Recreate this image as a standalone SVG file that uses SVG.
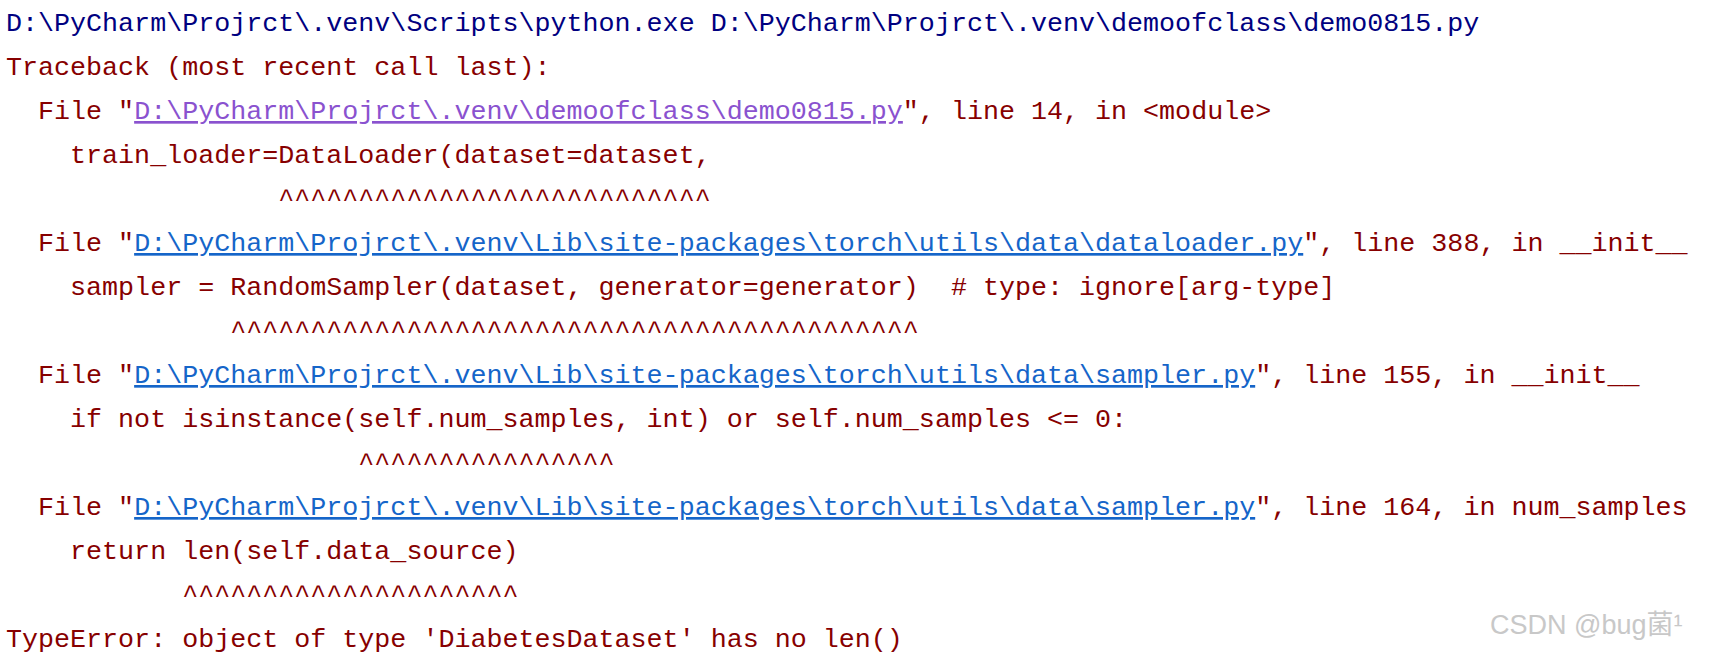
<svg xmlns="http://www.w3.org/2000/svg" width="1713" height="652" viewBox="0 0 1713 652">
<style>
text{font-family:"Liberation Mono","DejaVu Sans Mono",monospace;font-size:26.7px;fill:#870000;white-space:pre}
.cmd{fill:#000080}
.lv{fill:#8a52cf;text-decoration:underline}
.lb{fill:#1565c9;text-decoration:underline}
.wm{font-family:"Liberation Sans","Noto Sans CJK SC",sans-serif;fill:#c8c8c8;font-size:27px}
</style>
<rect width="1713" height="652" fill="#ffffff"/>
<g id="traceback" xml:space="preserve">
<text class="cmd" x="6" y="31">D:\PyCharm\Projrct\.venv\Scripts\python.exe D:\PyCharm\Projrct\.venv\demoofclass\demo0815.py</text>
<text x="6" y="75">Traceback (most recent call last):</text>
<text x="6" y="119">  File "<tspan class="lv">D:\PyCharm\Projrct\.venv\demoofclass\demo0815.py</tspan>", line 14, in &lt;module&gt;</text>
<text x="6" y="163">    train_loader=DataLoader(dataset=dataset,</text>
<text x="6" y="207">                 ^^^^^^^^^^^^^^^^^^^^^^^^^^^</text>
<text x="6" y="251">  File "<tspan class="lb">D:\PyCharm\Projrct\.venv\Lib\site-packages\torch\utils\data\dataloader.py</tspan>", line 388, in __init__</text>
<text x="6" y="295">    sampler = RandomSampler(dataset, generator=generator)  # type: ignore[arg-type]</text>
<text x="6" y="339">              ^^^^^^^^^^^^^^^^^^^^^^^^^^^^^^^^^^^^^^^^^^^</text>
<text x="6" y="383">  File "<tspan class="lb">D:\PyCharm\Projrct\.venv\Lib\site-packages\torch\utils\data\sampler.py</tspan>", line 155, in __init__</text>
<text x="6" y="427">    if not isinstance(self.num_samples, int) or self.num_samples &lt;= 0:</text>
<text x="6" y="471">                      ^^^^^^^^^^^^^^^^</text>
<text x="6" y="515">  File "<tspan class="lb">D:\PyCharm\Projrct\.venv\Lib\site-packages\torch\utils\data\sampler.py</tspan>", line 164, in num_samples</text>
<text x="6" y="559">    return len(self.data_source)</text>
<text x="6" y="603">           ^^^^^^^^^^^^^^^^^^^^^</text>
<text x="6" y="647">TypeError: object of type 'DiabetesDataset' has no len()</text>
</g>
<text class="wm" x="1490" y="634">CSDN @bug菌¹</text>
</svg>
